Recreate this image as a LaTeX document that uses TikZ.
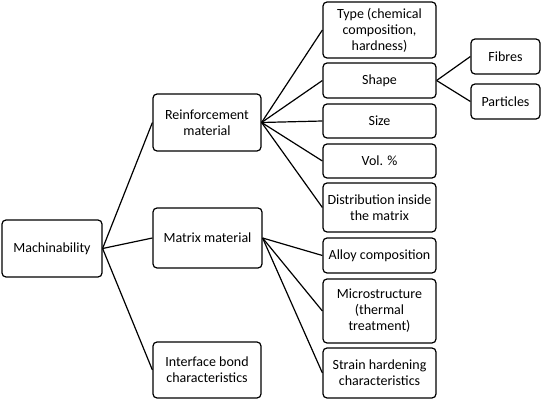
\documentclass[tikz,border=0pt]{standalone}
\usepackage{fontspec}
\setmainfont{Carlito}
\usetikzlibrary{shapes}

\begin{document}
\begin{tikzpicture}[x=1pt,y=1pt]
\tikzstyle{every node}+=[inner sep=0pt]
\tikzstyle{box}=[draw=black,line width=1.2pt,rounded corners=4pt,align=center,font=\fontsize{14}{16}\selectfont]
\tikzstyle{link}=[black,line width=1.2pt]
\useasboundingbox (0,0) rectangle (542,-401);
\node [box,minimum width=100,minimum height=57] (mach) at (52,-248.5) {Machinability};
\node [box,minimum width=108,minimum height=57] (reinf) at (207,-122.5) {Reinforcement\\material};
\node [box,minimum width=109,minimum height=60] (matrix) at (207.5,-238) {Matrix material};
\node [box,minimum width=108,minimum height=56] (iface) at (207,-370) {Interface bond\\characteristics};
\node [box,minimum width=113,minimum height=56] (type) at (379.5,-30) {Type (chemical\\composition,\\hardness)};
\node [box,minimum width=113,minimum height=35] (shape) at (379.5,-80.5) {Shape};
\node [box,minimum width=113,minimum height=34] (size) at (379.5,-121) {Size};
\node [box,minimum width=113,minimum height=34] (vol) at (379.5,-161) {Vol. \%};
\node [box,minimum width=113,minimum height=49] (dist) at (379.5,-207.5) {Distribution inside\\the matrix};
\node [box,minimum width=113,minimum height=35] (alloy) at (379.5,-255.5) {Alloy composition};
\node [box,minimum width=113,minimum height=64] (micro) at (379.5,-311) {Microstructure\\(thermal\\treatment)};
\node [box,minimum width=113,minimum height=50] (strain) at (379.5,-373) {Strain hardening\\characteristics};
\node [box,minimum width=69,minimum height=35] (fibres) at (505.5,-56.5) {Fibres};
\node [box,minimum width=69,minimum height=35] (part) at (505.5,-101.5) {Particles};
\draw [link] (mach.east) -- (reinf.west);
\draw [link] (mach.east) -- (matrix.west);
\draw [link] (mach.east) -- (iface.west);
\draw [link] (reinf.east) -- (type.west);
\draw [link] (reinf.east) -- (shape.west);
\draw [link] (reinf.east) -- (size.west);
\draw [link] (reinf.east) -- (vol.west);
\draw [link] (reinf.east) -- (dist.west);
\draw [link] (matrix.east) -- (alloy.west);
\draw [link] (matrix.east) -- (micro.west);
\draw [link] (matrix.east) -- (strain.west);
\draw [link] (shape.east) -- (fibres.west);
\draw [link] (shape.east) -- (part.west);
\end{tikzpicture}
\end{document}
